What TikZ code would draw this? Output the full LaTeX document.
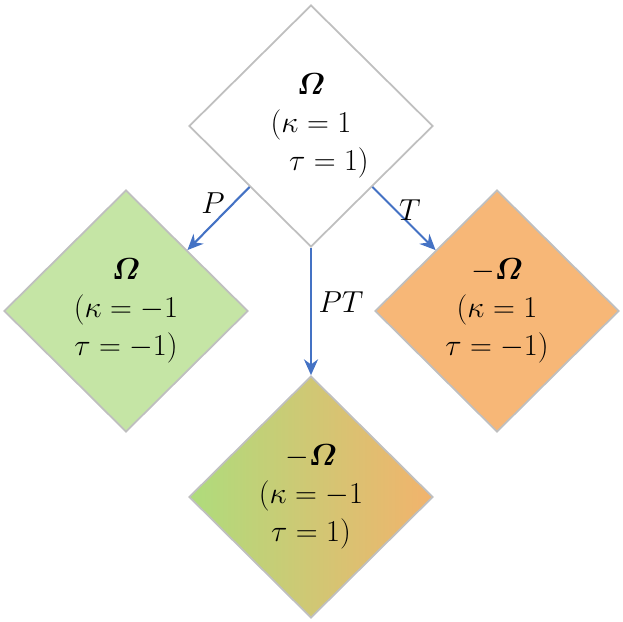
\documentclass[tikz,border=0pt]{standalone}
\usepackage{amsmath}
\usetikzlibrary{shapes.geometric,arrows.meta}
\definecolor{edge}{HTML}{BFBFBF}
\definecolor{arr}{HTML}{4472C4}
\definecolor{gfill}{HTML}{C5E5A5}
\definecolor{ofill}{HTML}{F7B777}
\definecolor{gL}{HTML}{AEDC7C}
\definecolor{oR}{HTML}{F2B36C}
\begin{document}
\begin{tikzpicture}[x=0.02cm,y=-0.02cm,
  dia/.style={diamond,draw=edge,line width=1pt,minimum width=4.88cm,minimum height=4.84cm,inner sep=0pt,align=center,font=\fontsize{17}{21.5}\selectfont},
  con/.style={draw=arr,line width=1.2pt,-{Stealth[length=9pt,width=8pt]}},
  lab/.style={font=\fontsize{17}{20}\selectfont}]
\useasboundingbox (0,0) rectangle (623,622);
\node[dia,fill=white] (top) at (311,126) {$\boldsymbol{\varOmega}$\\$(\kappa=1$\\\hspace{1.2em}$\tau=1)$};
\node[dia,fill=gfill] (left) at (126,311) {$\boldsymbol{\varOmega}$\\$(\kappa=-1$\\$\tau=-1)$};
\node[dia,fill=ofill] (right) at (497,311) {$-\boldsymbol{\varOmega}$\\$(\kappa=1$\\$\tau=-1)$};
\node[dia,left color=gL,right color=oR] (bottom) at (311,497) {$-\boldsymbol{\varOmega}$\\$(\kappa=-1$\\$\tau=1)$};
\draw[con] (top.south west) -- (left.north east);
\draw[con] (top.south east) -- (right.north west);
\draw[con] (top.south) -- (bottom.north);
\node[lab] (lp) at (213,203) {$P$};
\node[lab] (lt) at (410,210) {$T$};
\node[lab] (lpt) at (341,302) {$PT$};
\end{tikzpicture}
\end{document}
